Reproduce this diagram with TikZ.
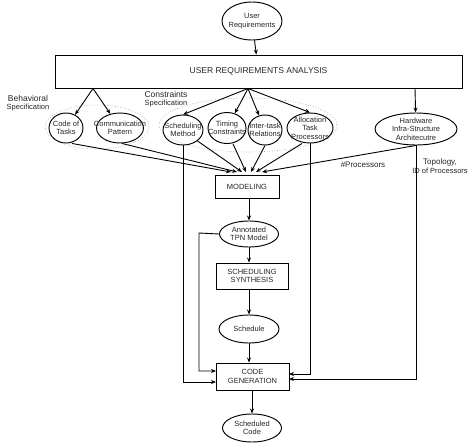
\documentclass[tikz,border=0pt]{standalone}
\usepackage{fontspec}
\setmainfont{Liberation Sans}
\usetikzlibrary{shapes.geometric,arrows.meta}
\begin{document}
\begin{tikzpicture}[x=1pt,y=-1pt,
  every node/.style={font=\fontsize{7.5}{8.5}\selectfont, text=black!85, align=center, inner sep=0pt},
  ell/.style={draw, line width=0.95pt, ellipse},
  box/.style={draw, line width=0.9pt, rectangle},
  arr/.style={line width=0.9pt, -{Stealth[length=5pt,width=4pt]}},
  grp/.style={draw=black!40, dotted, line width=0.6pt}
]
\useasboundingbox (0,0) rectangle (474,447);

% group ellipses
\draw[grp] (97,127) ellipse [x radius=52pt, y radius=22pt];
\draw[grp] (248,125) ellipse [x radius=89pt, y radius=27pt];

\node[ell, minimum width=60pt, minimum height=38pt] (ur) at (252,21) {};
\node (urt) at (ur) {User\\Requirements};
\node[box, minimum width=407pt, minimum height=33pt] (ura) at (258.5,71.5) {\fontsize{8.5}{10}\selectfont USER REQUIREMENTS ANALYSIS};

\node (bs) at (28,103) {\fontsize{8.5}{9.5}\selectfont Behavioral\\Specification};
\node (cs) at (166,99) {\fontsize{8.5}{9.5}\selectfont Constraints\\Specification};

\node[ell, minimum width=34pt, minimum height=30pt] (ct) at (66,128) {};
\node (ctt) at (ct) {Code of\\Tasks};
\node[ell, minimum width=47pt, minimum height=30pt] (cp) at (120,128) {};
\node (cpt) at (cp) {Communication\\Pattern};
\node[ell, minimum width=40pt, minimum height=30pt] (sm) at (183,130) {};
\node (smt) at (sm) {Scheduling\\Method};
\node[ell, minimum width=38pt, minimum height=31pt] (tc) at (227,128) {};
\node (tct) at (tc) {Timing\\Constraints};
\node[ell, minimum width=34pt, minimum height=30pt] (ir) at (265,130) {};
\node (irt) at (ir) {Inter-task\\Relations};
\node[ell, minimum width=46pt, minimum height=30pt] (atp) at (310,128) {};
\node (atpt) at (atp) {Allocation\\Task\\Processors};
\node[ell, minimum width=82pt, minimum height=32pt] (hw) at (416,129) {};
\node (hwt) at (hw) {Hardware\\Infra-Structure\\Architecutre};

\node[box, minimum width=64pt, minimum height=23pt] (mod) at (247,186.5) {MODELING};
\node[ell, minimum width=59pt, minimum height=26pt] (tpn) at (249,234) {};
\node (tpnt) at (tpn) {Annotated\\TPN Model};
\node[box, minimum width=72pt, minimum height=26pt] (ss) at (252,276) {SCHEDULING\\SYNTHESIS};
\node[ell, minimum width=60pt, minimum height=28pt] (sch) at (249,329) {};
\node (scht) at (sch) {Schedule};
\node[box, minimum width=73pt, minimum height=27pt] (cg) at (252.5,376.5) {CODE\\GENERATION};
\node[ell, minimum width=59pt, minimum height=28pt] (sc) at (252,428) {};
\node (sct) at (sc) {Scheduled\\Code};

\node (np) at (363,165) {\fontsize{8}{9}\selectfont \#Processors};
\node (tp) at (440,166) {\fontsize{8}{8.5}\selectfont Topology,\\ID of Processors};

% branch points on analysis box
\coordinate (b1) at (93,88.5);
\coordinate (b2) at (248,88.5);
\coordinate (b3) at (415,88.5);

\draw[arr] (ur) -- (ura);
\draw[arr] (b1) -- (ct);
\draw[arr] (b1) -- (cp);
\draw[arr] (b2) -- (sm.north);
\draw[arr] (b2) -- (tc);
\draw[arr] (b2) -- (ir);
\draw[arr] (b2) -- (atp.north);
\draw[arr] (b3) -- (hw);

% convergence to modeling
\coordinate (m1) at (231,172);
\coordinate (m2) at (237,172);
\coordinate (m3) at (242,172);
\coordinate (m4) at (246,172);
\coordinate (m5) at (251,172);
\coordinate (m6) at (256,172);
\coordinate (m7) at (262,172);
\draw[arr] (ct.south) ++(6,0) -- (m1);
\draw[arr] (cp.south) ++(2,0) -- (m2);
\draw[arr] (sm.south east) -- (m3);
\draw[arr] (tc.south) ++(6,0) -- (m4);
\draw[arr] (ir.south) -- (m5);
\draw[arr] (atp.south) ++(-8,0) -- (m6);
\draw[arr] (hw.south) -- (m7);

% main chain
\draw[arr] (mod.south) ++(2,0) -- (tpn);
\draw[arr] (tpn) -- (ss.north -| tpn);
\draw[arr] (ss.south -| tpn) -- (sch);
\draw[arr] (sch) -- (cg.north -| sch);
\draw[arr] (cg.south -| sc) -- (sc);

% side feeds to code generation
\coordinate (c1) at (216,371);
\coordinate (c2) at (216,382);
\coordinate (c3) at (289,374);
\coordinate (c4) at (289,379);
\coordinate (k1) at (199,233);
\draw[arr] (tpn.west) -- (k1) |- (c1);
\draw[arr] (sm.south) |- (c2);
\draw[arr] (atp.south) |- (c3);
\draw[arr] (hw.south) |- (c4);
\end{tikzpicture}
\end{document}
